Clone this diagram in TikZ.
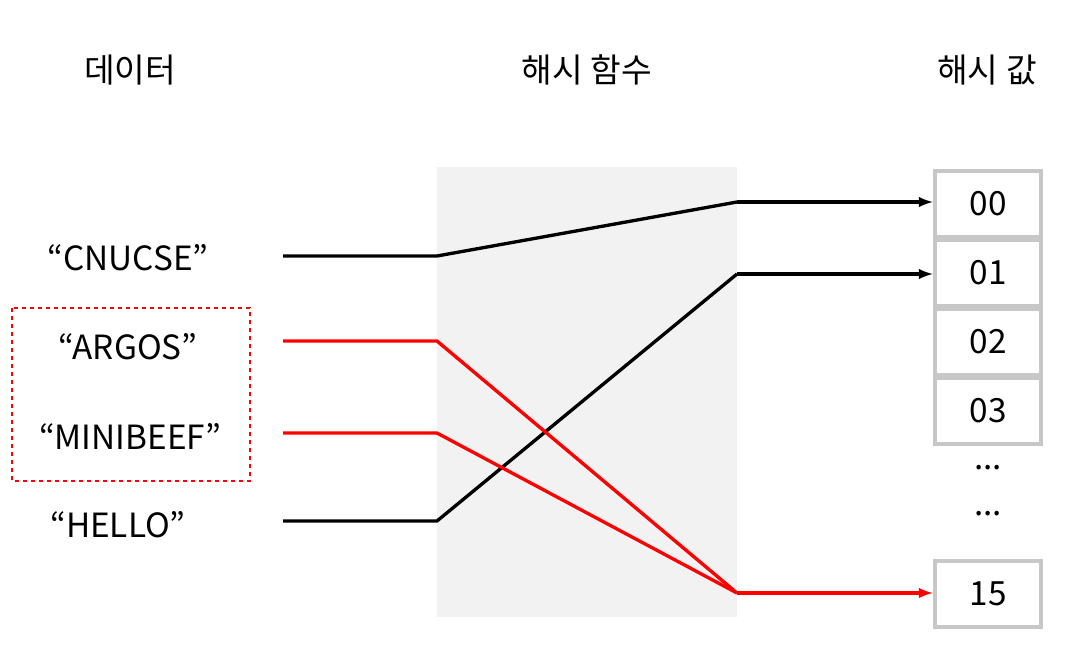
\documentclass[tikz,border=0pt]{standalone}
\usepackage{fontspec}
\setmainfont{Noto Sans CJK KR}
\begin{document}
\begin{tikzpicture}[x=0.75pt,y=-0.75pt,
  lbl/.style={font=\fontsize{25}{28}\selectfont, inner sep=0pt},
  cell/.style={draw=black!22, line width=3pt, fill=white, minimum width=80pt, minimum height=49pt, font=\fontsize{25}{28}\selectfont},
  blk/.style={line width=2.5pt, black},
  rd/.style={line width=2.5pt, red},
  tip/.style={-latex}]
\useasboundingbox (0,0) rectangle (1071,647);
\fill[black!5] (437,167) rectangle (737,617);
\node[lbl] (h1) at (130,70) {데이터};
\node[lbl] (h2) at (587,70) {해시 함수};
\node[lbl] (h3) at (987,70) {해시 값};
\node[cell] (b0) at (988,204) {00};
\node[cell] (b1) at (988,273) {01};
\node[cell] (b2) at (988,342) {02};
\node[cell] (b3) at (988,411) {03};
\node[cell] (b15) at (988,594) {15};
\node[lbl] (d1) at (988,468) {...};
\node[lbl] (d2) at (988,514) {...};
\node[lbl] (t1) at (128,258) {“CNUCSE”};
\node[lbl] (t2) at (128,347) {“ARGOS”};
\node[lbl] (t3) at (130,436) {“MINIBEEF”};
\node[lbl] (t4) at (118,525) {“HELLO”};
\draw[red, dashed, line width=1.2pt] (12,308) rectangle (250,481);
\coordinate (s1) at (283,256); \coordinate (m1) at (437,256); \coordinate (e1) at (737,202);
\coordinate (s2) at (283,341); \coordinate (m2) at (437,341);
\coordinate (s3) at (283,433); \coordinate (m3) at (437,433); \coordinate (e3) at (737,593);
\coordinate (s4) at (283,521); \coordinate (m4) at (437,521); \coordinate (e4) at (737,274);
\draw[blk] (s1) -- (m1) -- (e1);
\draw[blk,tip] (e1) -- (b0.west|-e1);
\draw[blk] (s4) -- (m4) -- (e4);
\draw[blk,tip] (e4) -- (b1.west|-e4);
\draw[rd] (s2) -- (m2) -- (e3);
\draw[rd] (s3) -- (m3) -- (e3);
\draw[rd,tip] (e3) -- (b15.west|-e3);
\end{tikzpicture}
\end{document}
